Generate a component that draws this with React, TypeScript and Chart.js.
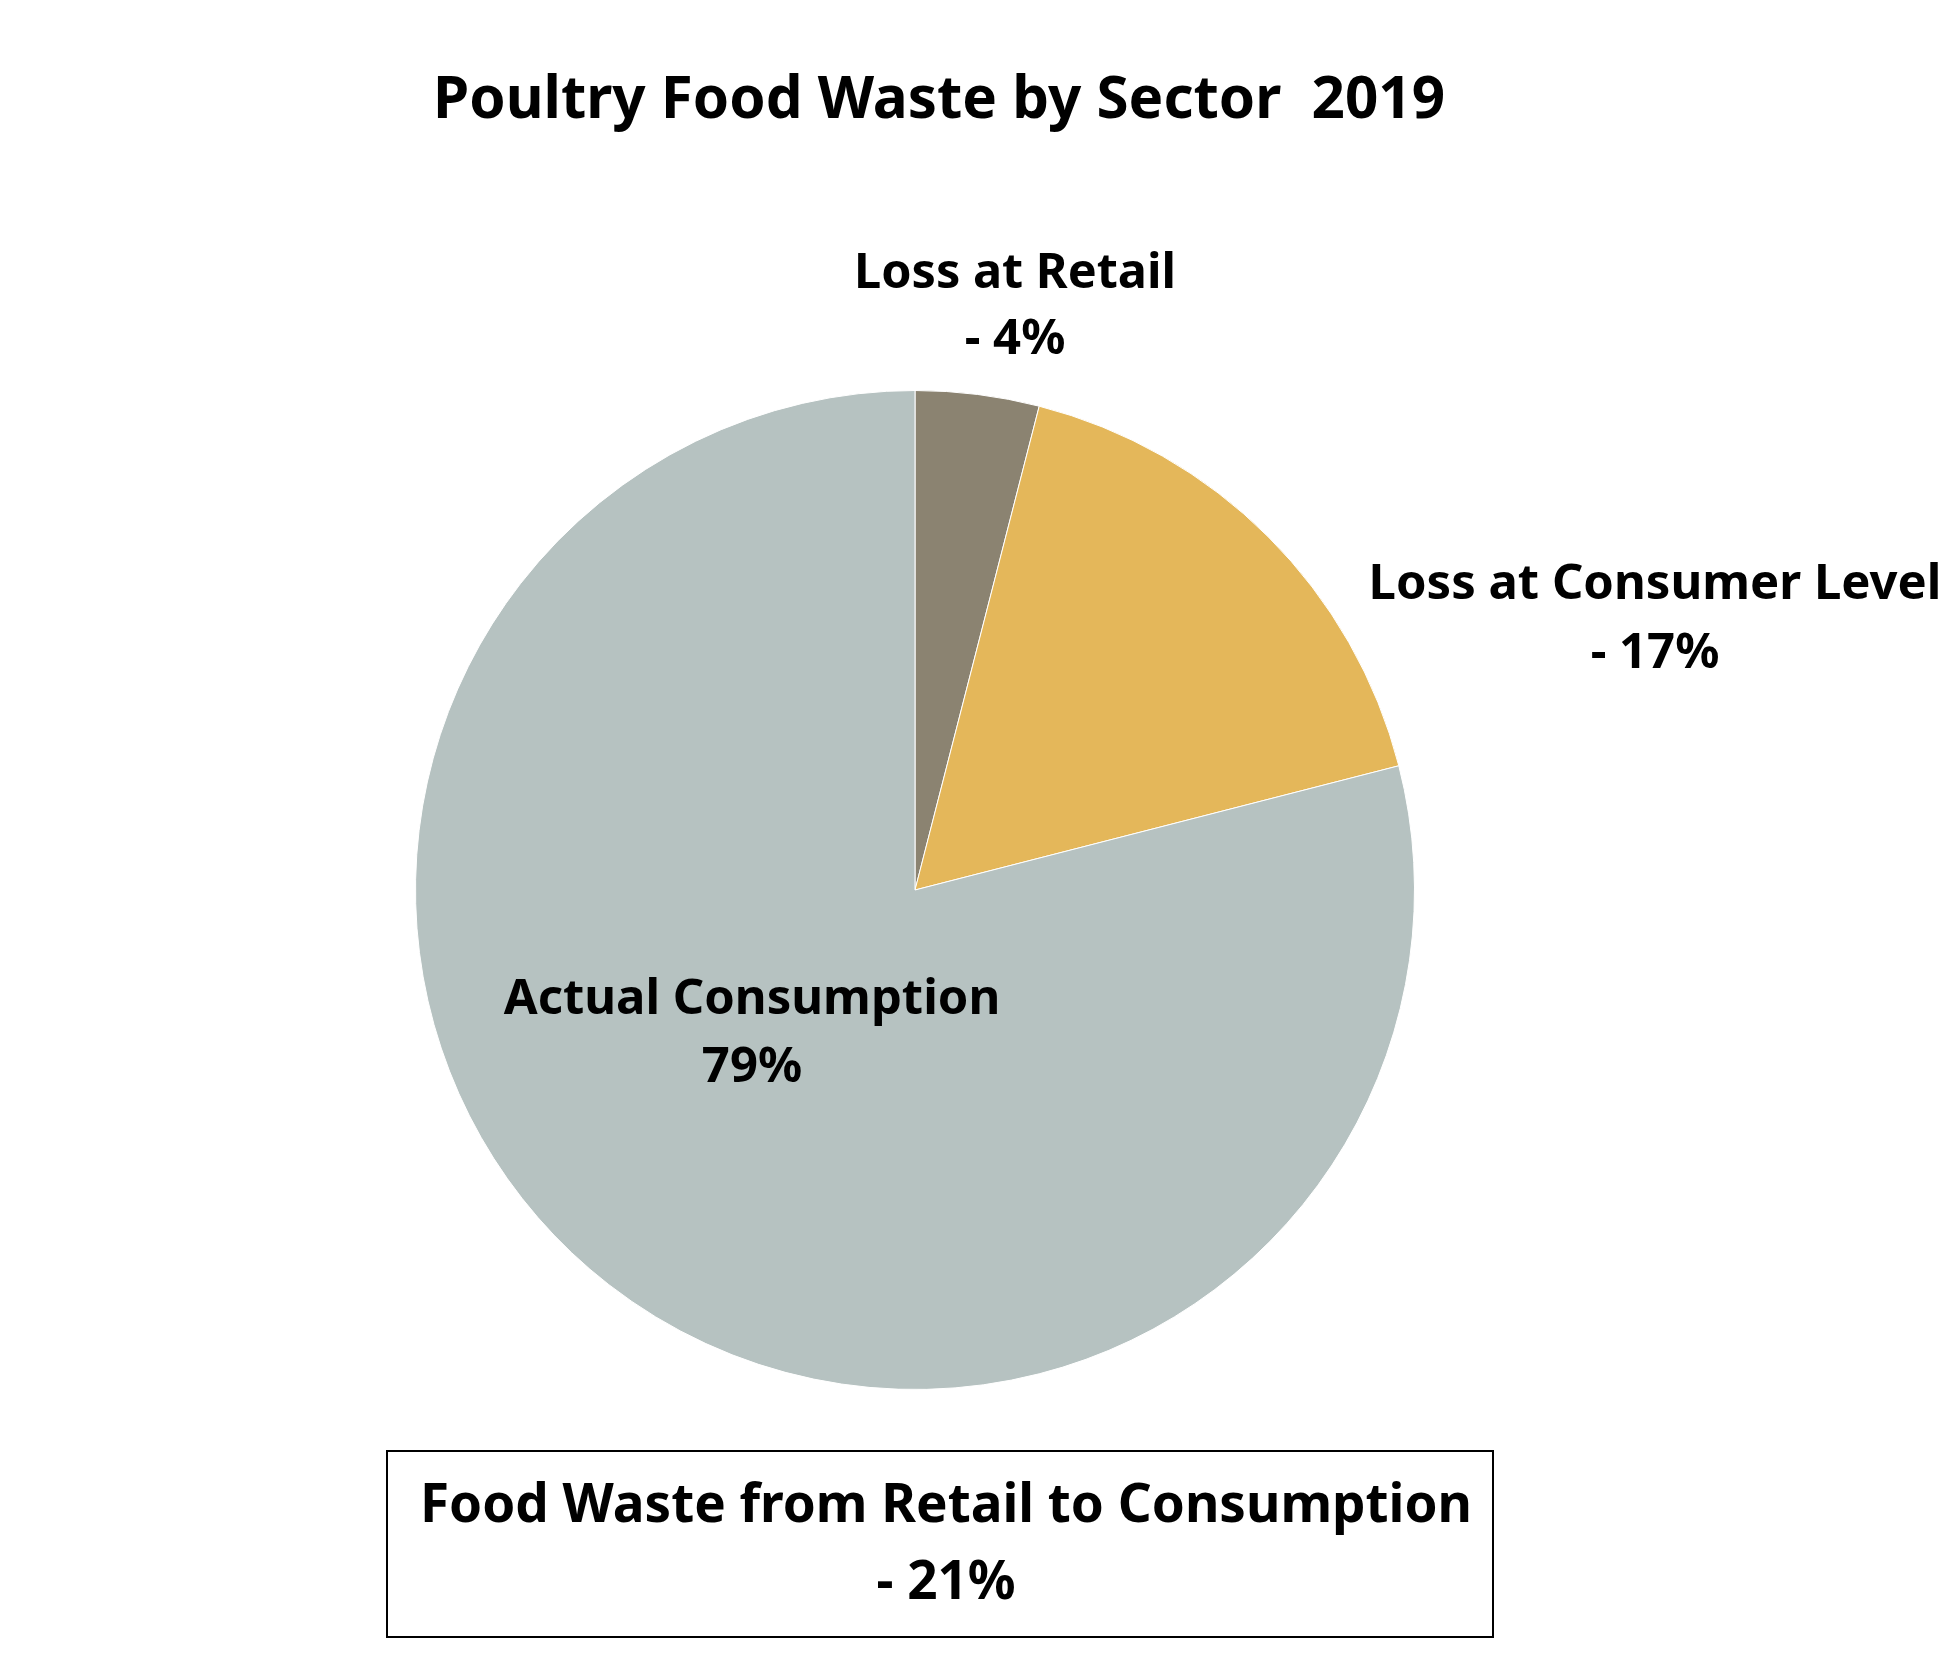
import React, { useEffect, useRef } from "react";
import { Chart, registerables } from "chart.js";

Chart.register(...registerables);

const categories = ["Loss at Retail", "Loss at Consumer Level", "Actual Consumption"];
const values = [4, 17, 79];
const valueLabels = ["- 4%", "- 17%", "79%"];
const colors = ["#8B8371", "#E4B75A", "#B6C2C1"];
const titleText = "Poultry Food Waste by Sector  2019";
const boxLines = ["Food Waste from Retail to Consumption", "- 21%"];

const FONT = '"Noto Sans", sans-serif';

const annotatePlugin = {
  id: "annotate",
  afterDraw(chart: any) {
    const ctx = chart.ctx as CanvasRenderingContext2D;
    ctx.save();
    ctx.fillStyle = "#000";
    ctx.textAlign = "center";
    ctx.textBaseline = "middle";

    // title
    ctx.font = `700 60px ${FONT}`;
    ctx.fillText(titleText, 939, 101, 1012);

    // slice labels
    const lab = [
      { x: 1015, y: 274, w: 322 },
      { x: 1655, y: 585, w: 574 },
      { x: 752, y: 1000, w: 500 },
    ];
    const vy = [340, 654, 1068];
    ctx.font = `700 49px ${FONT}`;
    categories.forEach((c, i) => {
      ctx.fillText(c, lab[i].x, lab[i].y, lab[i].w);
      ctx.fillText(valueLabels[i], lab[i].x, vy[i]);
    });

    // box
    ctx.strokeStyle = "#000";
    ctx.lineWidth = 2;
    ctx.strokeRect(387, 1451, 1106, 186);
    ctx.font = `700 53px ${FONT}`;
    ctx.fillText(boxLines[0], 946, 1507, 1056);
    ctx.fillText(boxLines[1], 946, 1584, 140);
    ctx.restore();
  },
};

export default function App() {
  const ref = useRef<HTMLCanvasElement>(null);
  useEffect(() => {
    document.body.style.margin = "0";
    const chart = new Chart(ref.current!, {
      type: "pie",
      data: {
        labels: categories,
        datasets: [
          {
            data: values,
            backgroundColor: colors,
            borderColor: "#ffffff",
            borderWidth: 1,
          },
        ],
      },
      options: {
        responsive: false,
        animation: false,
        layout: { padding: { left: 415, right: 537, top: 390, bottom: 288 } },
        plugins: { legend: { display: false }, tooltip: { enabled: false } },
      },
      plugins: [annotatePlugin],
    });
    return () => chart.destroy();
  }, []);
  return (
    <div style={{ position: "absolute", left: 0, top: 0, width: 1952, height: 1678, background: "#fff" }}>
      <canvas ref={ref} width={1952} height={1678} style={{ width: 1952, height: 1678 }} />
    </div>
  );
}
